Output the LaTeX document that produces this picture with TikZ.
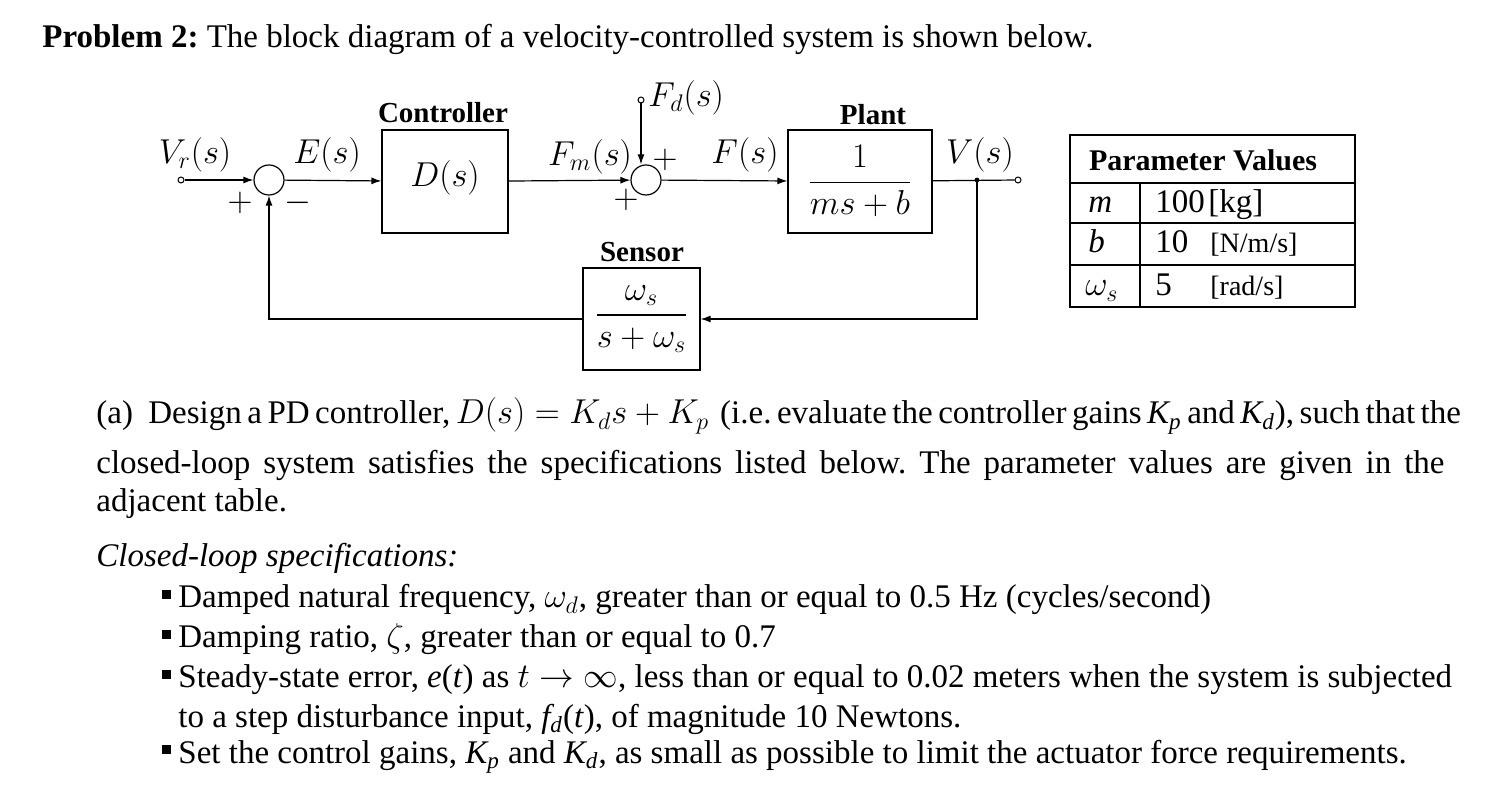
\documentclass[tikz,border=0pt]{standalone}
\usepackage{amsmath}
\usepackage{fontspec}
\setmainfont{Liberation Serif}
\usetikzlibrary{arrows.meta}
\begin{document}
\frenchspacing
\begin{tikzpicture}[x=0.5pt,y=-0.5pt,
  every node/.style={font=\fontsize{16.5}{19}\selectfont, inner sep=0pt},
  blk/.style={draw, line width=0.6pt, inner sep=0pt},
  sumc/.style={draw, circle, minimum size=15pt, line width=0.6pt},
  term/.style={draw, circle, minimum size=3pt, line width=0.5pt},
  sig/.style={line width=0.6pt, -{Latex[length=5pt,width=3.5pt]}},
  ln/.style={line width=0.6pt},
  lbl/.style={font=\fontsize{17.5}{20}\selectfont},
  hdr/.style={font=\bfseries\fontsize{14.5}{17}\selectfont},
  txt/.style={anchor=base west}]
\useasboundingbox (0,0) rectangle (1500,790);
\node[txt] (title) at (42,48) {\textbf{Problem 2:} The block diagram of a velocity-controlled system is shown below.};
% diagram
\node[term] (vr) at (181,180) {};
\node[sumc] (s1) at (269,180) {};
\node[blk, minimum width=63pt, minimum height=51.5pt] (ctl) at (445,181.5) {};
\node[lbl] at (445,178) {$D(s)$};
\node[hdr] (ctlh) at (443,113) {Controller};
\node[sumc] (s2) at (646,180) {};
\node[term] (fd) at (641,100) {};
\node[blk, minimum width=72pt, minimum height=51.5pt] (pl) at (860,181.5) {};
\node[lbl] at (860,181) {$\dfrac{1}{ms+b}$};
\node[hdr] (plh) at (873,115) {Plant};
\coordinate (br) at (977,180);
\node[term] (vo) at (1018,180) {};
\node[blk, minimum width=58.5pt, minimum height=51pt] (sen) at (641.5,319) {};
\node[lbl] at (641.5,319) {$\dfrac{\omega_s}{s+\omega_s}$};
\node[hdr] (senh) at (642,252) {Sensor};
\draw[sig] (vr) -- (s1);
\draw[sig] (s1) -- (ctl);
\draw[sig] (ctl) -- (s2);
\draw[sig] (fd) -- (s2.north -| fd);
\draw[sig] (s2) -- (pl);
\draw[ln] (pl) -- (vo);
\fill (br) circle (1.2pt);
\draw[sig] (br) |- (sen.east);
\draw[sig] (sen.west) -| (s1.south);
\node[lbl] at (195,155) {$V_r(s)$};
\node[lbl] at (327,155) {$E(s)$};
\node[lbl] at (240,203) {$+$};
\node[lbl] at (298,203) {$-$};
\node[lbl] at (590,157) {$F_m(s)$};
\node[lbl, anchor=west] at (648,98) {$F_d(s)$};
\node[lbl] at (665,160) {$+$};
\node[lbl] at (626,200) {$+$};
\node[lbl] at (745,155) {$F(s)$};
\node[lbl] at (980,155) {$V(s)$};
% table
\draw[ln] (1070,135) rectangle (1355,307);
\draw[ln] (1070,183) -- (1355,183);
\draw[ln] (1070,223) -- (1355,223);
\draw[ln] (1070,265) -- (1355,265);
\draw[ln] (1140,183) -- (1140,307);
\node[hdr, font=\bfseries\fontsize{15}{17}\selectfont] (th) at (1203,160) {Parameter Values};
\node[txt] (tm) at (1088,213) {\itshape m};
\node[txt] (t1) at (1155,213) {100};
\node[txt] (t1u) at (1208,213) {[kg]};
\node[txt] (tb) at (1088,253) {\itshape b};
\node[txt] (t2) at (1155,253) {10};
\node[txt, font=\fontsize{14}{16}\selectfont] (t2u) at (1210,253) {[N/m/s]};
\node[txt] (tw) at (1085,296) {$\omega_s$};
\node[txt] (t3) at (1155,296) {5};
\node[txt, font=\fontsize{14}{16}\selectfont] (t3u) at (1210,296) {[rad/s]};
% text
\node[txt] (a) at (96,424) {(a)};
\node[txt] (l1) at (148,424) {\makebox[648pt][s]{Design a PD controller, \mbox{\fontsize{18}{20}\selectfont$D(s)=K_d s+K_p$}\ \ (i.e. evaluate the controller gains \textit{K\textsubscript{p}} and \textit{K\textsubscript{d}}), such that the}};
\node[txt] (l2) at (96,474) {\makebox[674pt][s]{closed-loop system satisfies the specifications listed below. The parameter values are given in the}};
\node[txt] (l3) at (96,512) {adjacent table.};
\node[txt] (cs) at (96,567) {\itshape Closed-loop specifications:};
\foreach \yy in {600,640,680,755} \fill (162,\yy-10) rectangle ++(9,9);
\node[txt] (b1) at (178,608) {Damped natural frequency, $\omega_d$, greater than or equal to 0.5 Hz (cycles/second)};
\node[txt] (b2) at (178,648) {Damping ratio, $\zeta$, greater than or equal to 0.7};
\node[txt] (b3) at (178,688) {Steady-state error, \textit{e}(\textit{t}) as $t\to\infty$, less than or equal to 0.02 meters when the system is subjected};
\node[txt] (b3b) at (178,727) {to a step disturbance input, \textit{f\textsubscript{d}}(\textit{t}), of magnitude 10 Newtons.};
\node[txt] (b4) at (178,763) {Set the control gains, \textit{K\textsubscript{p}} and \textit{K\textsubscript{d}}, as small as possible to limit the actuator force requirements.};
\end{tikzpicture}
\end{document}
